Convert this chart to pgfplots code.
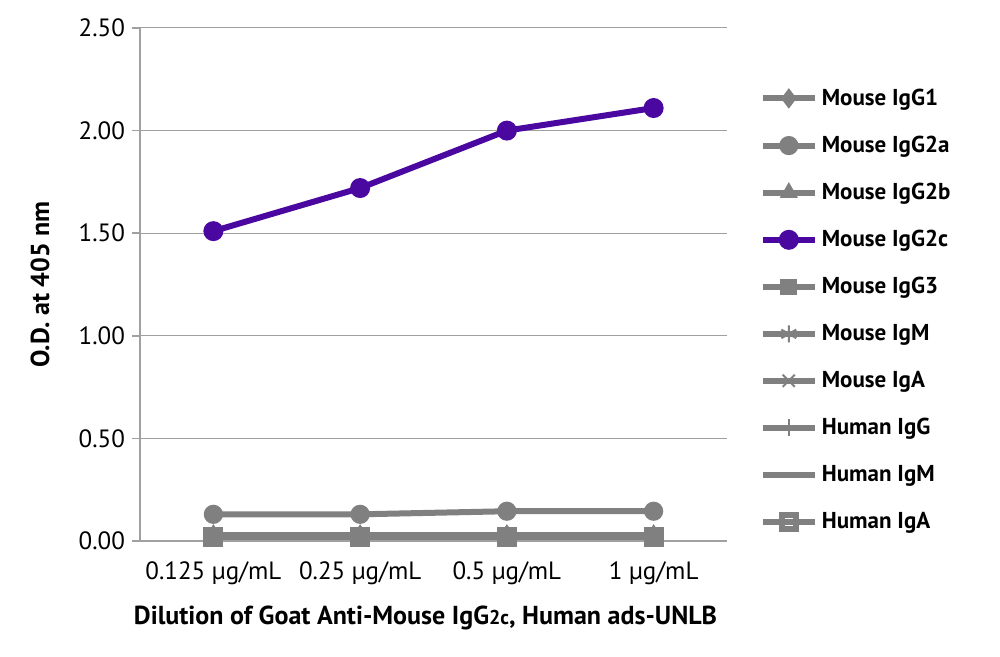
\documentclass[border=0pt]{standalone}
\usepackage{fontspec}
\setmainfont{PT Sans}
\usepackage{pgfplots}
\pgfplotsset{compat=1.18}
\definecolor{ser}{RGB}{128,128,128}
\definecolor{igc}{RGB}{75,8,160}
\definecolor{axc}{RGB}{160,160,160}
\begin{document}
\begin{tikzpicture}
\path (0pt,0pt) rectangle (500pt,328.5pt);
\begin{axis}[
    at={(70pt,58pt)}, anchor=south west,
    scale only axis, width=293.5pt, height=256.5pt,
    xmin=-0.5, xmax=3.5, ymin=0, ymax=2.5,
    axis lines*=left,
    axis line style={axc, line width=0.8pt},
    tick style={axc, line width=0.8pt},
    tick align=outside,
    xtick={0,1,2,3},
    xticklabels={0.125 µg/mL, 0.25 µg/mL, 0.5 µg/mL, 1 µg/mL},
    x tick style={draw=none},
    extra x ticks={-0.5,0.5,1.5,2.5,3.5},
    extra x tick labels={},
    extra x tick style={tick style={axc, line width=0.8pt}, major tick length=4pt},
    ytick={0,0.5,1,1.5,2,2.5},
    major tick length=4pt,
    ymajorgrids, grid style={axc, line width=0.5pt},
    yticklabel style={/pgf/number format/fixed, /pgf/number format/fixed zerofill, /pgf/number format/precision=2},
    /pgf/number format/assume math mode=true,
    ticklabel style={font=\fontsize{12.5}{14}\selectfont},
    xticklabel style={yshift=-3pt},
    xlabel={Dilution of Goat Anti-Mouse IgG{\fontsize{10}{10}\selectfont 2c}, Human ads-UNLB},
    ylabel={O.D. at 405 nm},
    every axis x label/.style={at={(axis description cs:0.5,0)}, xshift=-4pt, yshift=-38.5pt, anchor=center, font=\bfseries\fontsize{13}{15}\selectfont},
    every axis y label/.style={at={(axis description cs:0,0.5)}, xshift=-50pt, rotate=90, anchor=center, font=\bfseries\fontsize{13}{15}\selectfont},
    legend style={at={(1.045,0.898)}, anchor=north west, draw=none,
        font=\bfseries\fontsize{11.5}{13}\selectfont, row sep=9.85pt,
        /tikz/every even column/.append style={column sep=2pt}},
    legend cell align=left,
    legend image code/.code={\draw[mark repeat=2,mark phase=2] plot coordinates {(0pt,0pt) (13pt,0pt) (26pt,0pt)};},
    every axis plot/.append style={line width=3pt, mark size=4.3pt, mark options={solid, line width=1pt}},
]
\addplot[ser, mark=diamond*] coordinates {(0,0.03) (1,0.03) (2,0.03) (3,0.03)};
\addplot[ser, mark=*] coordinates {(0,0.13) (1,0.13) (2,0.145) (3,0.145)};
\addplot[ser, mark=triangle*] coordinates {(0,0.03) (1,0.03) (2,0.03) (3,0.03)};
\addplot[igc, mark=*, mark size=4.5pt] coordinates {(0,1.51) (1,1.72) (2,2.00) (3,2.11)};
\addplot[ser, mark=square*, mark size=3.7pt] coordinates {(0,0.02) (1,0.02) (2,0.02) (3,0.02)};
\addplot[ser, mark=asterisk] coordinates {(0,0.03) (1,0.03) (2,0.03) (3,0.03)};
\addplot[ser, mark=x] coordinates {(0,0.03) (1,0.03) (2,0.03) (3,0.03)};
\addplot[ser, mark=|] coordinates {(0,0.03) (1,0.03) (2,0.03) (3,0.03)};
\addplot[ser, mark=none] coordinates {(0,0.03) (1,0.03) (2,0.03) (3,0.03)};
\addplot[ser, mark=square, mark size=3.5pt, mark options={fill=white}] coordinates {(0,0.02) (1,0.02) (2,0.02) (3,0.02)};
\legend{Mouse IgG1, Mouse IgG2a, Mouse IgG2b, Mouse IgG2c, Mouse IgG3, Mouse IgM, Mouse IgA, Human IgG, Human IgM, Human IgA}
\end{axis}
\end{tikzpicture}
\end{document}
